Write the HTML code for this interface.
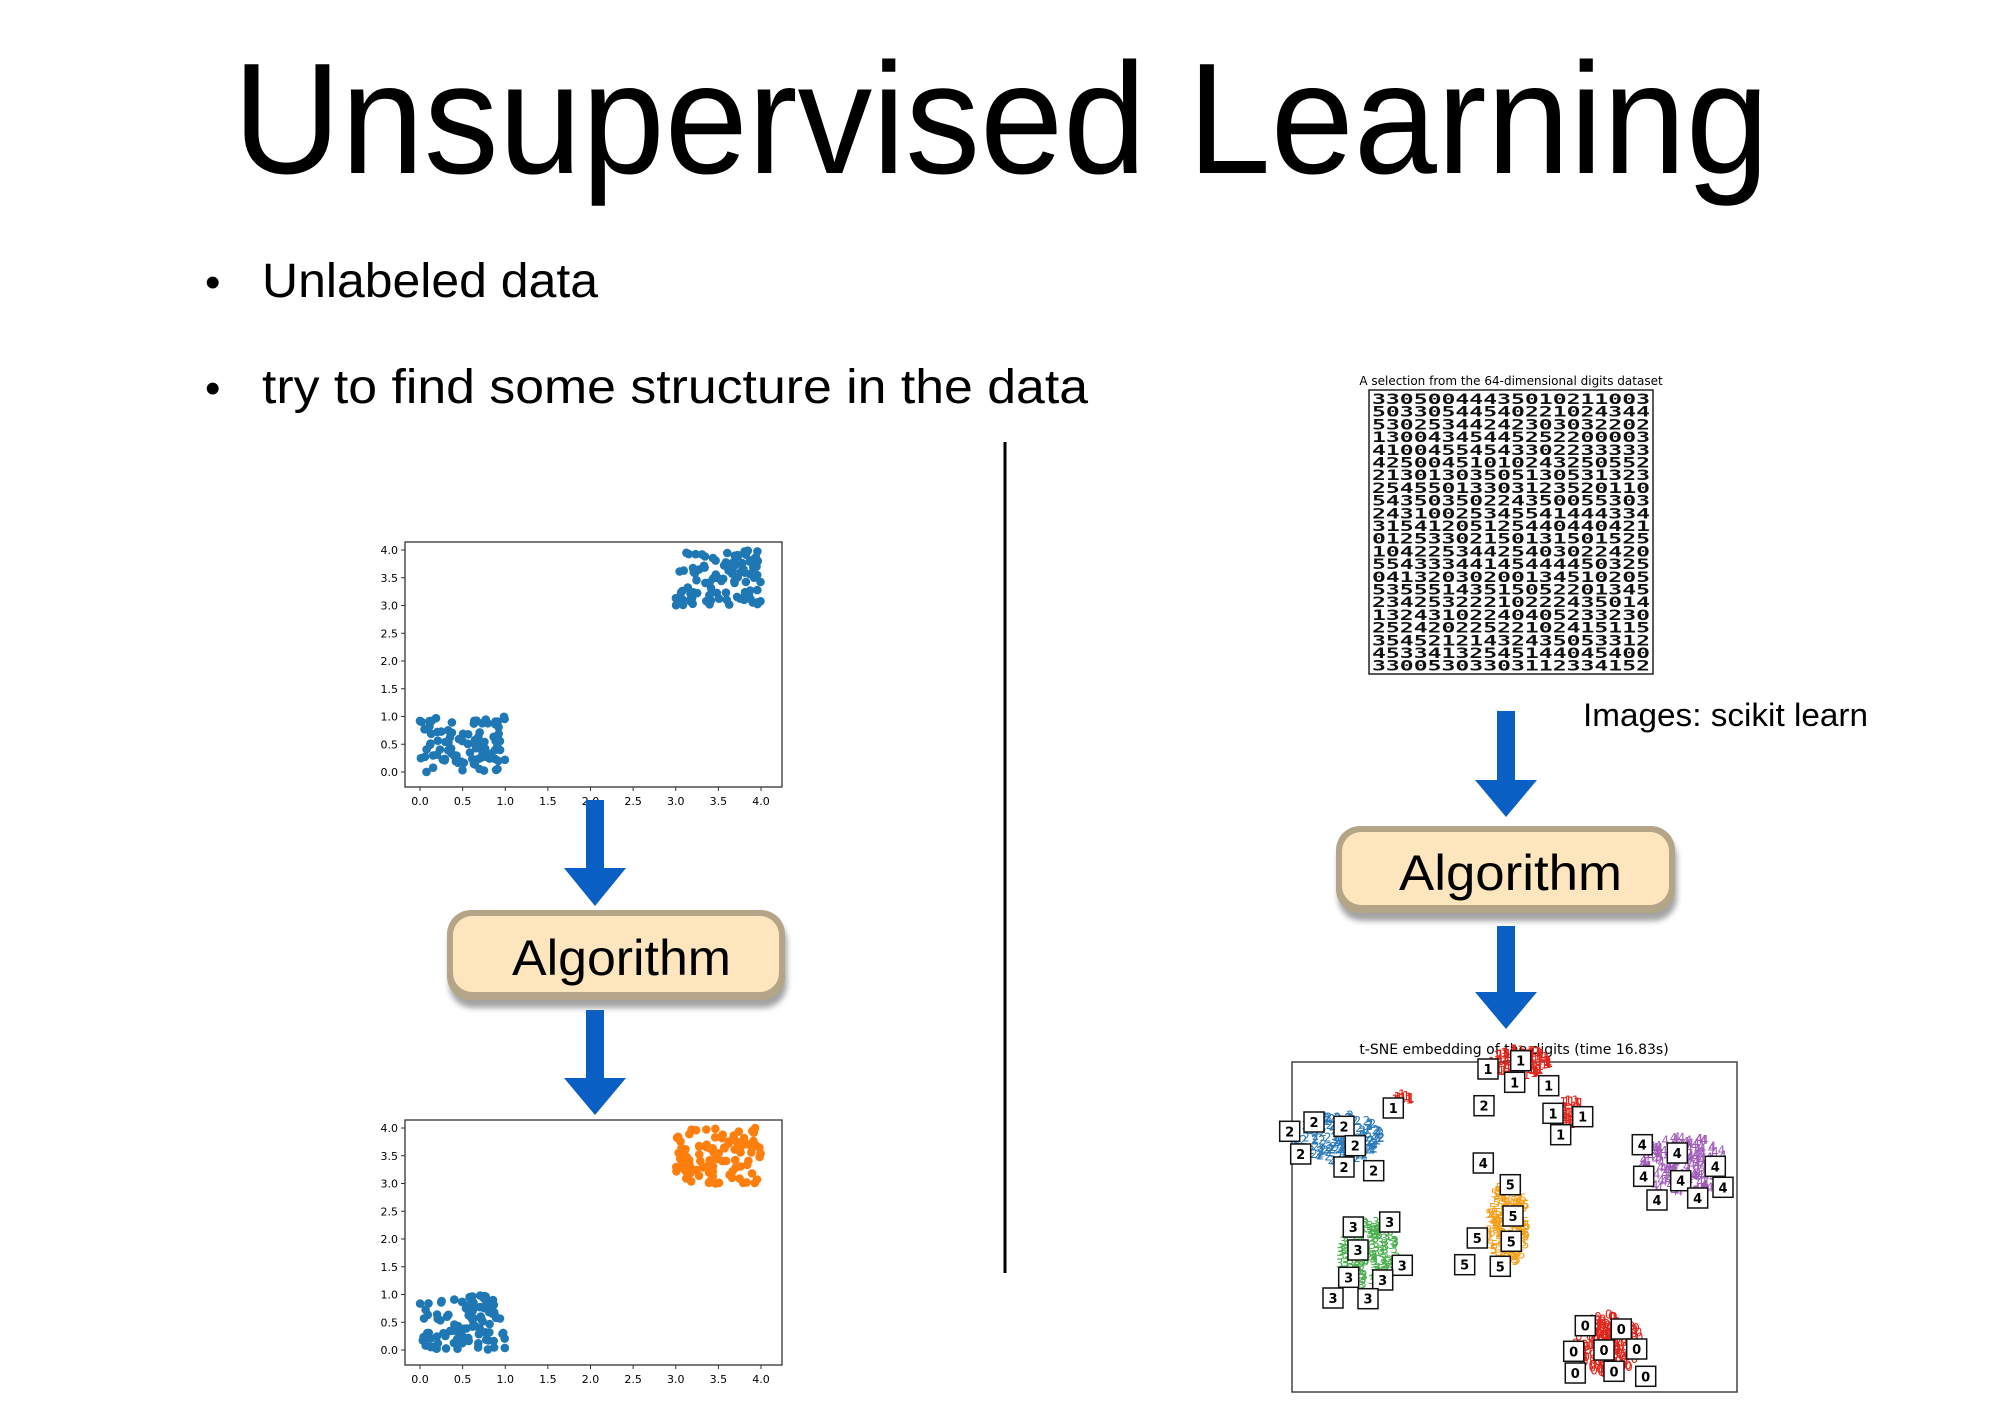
<!DOCTYPE html>
<html><head><meta charset="utf-8">
<style>
html,body{margin:0;padding:0;background:#fff;}
svg{display:block;}
</style></head>
<body>
<svg id="s" xmlns="http://www.w3.org/2000/svg" width="2000" height="1413" viewBox="0 0 2000 1413">
<defs>
<filter id="sh" x="-10%" y="-20%" width="120%" height="150%"><feGaussianBlur stdDeviation="3"/></filter>
</defs>
<text x="233" y="173" font-family="Liberation Sans, sans-serif" font-size="158" textLength="1536" lengthAdjust="spacingAndGlyphs" fill="#000">Unsupervised Learning</text>
<text x="205" y="297" font-family="Liberation Sans, sans-serif" font-size="44" fill="#000">•</text>
<text x="262" y="297" font-family="Liberation Sans, sans-serif" font-size="48" textLength="336" lengthAdjust="spacingAndGlyphs" fill="#000">Unlabeled data</text>
<text x="205" y="403" font-family="Liberation Sans, sans-serif" font-size="44" fill="#000">•</text>
<text x="262" y="403" font-family="Liberation Sans, sans-serif" font-size="48" textLength="826" lengthAdjust="spacingAndGlyphs" fill="#000">try to find some structure in the data</text>
<line x1="1005" y1="442" x2="1005" y2="1273" stroke="#000" stroke-width="3"/>
<g id="g"></g>
</svg>
<script>
(function(){
var g=document.getElementById('g');
var h='';
var seed=7;function r(){seed=(seed*16807)%2147483647;return (seed-1)/2147483646;}
function plot(oy,orange){
  var L=405,R=782,T=542+oy,B=787+oy;
  h+='<rect x="'+L+'" y="'+T+'" width="'+(R-L)+'" height="'+(B-T)+'" fill="#fff" stroke="#333" stroke-width="1.3"/>';
  function px(v){return 420+v*85.25;} function py(v){return 772+oy-v*55.5;}
  for(var i=0;i<=8;i++){var v=i*0.5;var x=px(v),y=py(v);
    h+='<line x1="'+x+'" y1="'+B+'" x2="'+x+'" y2="'+(B+4)+'" stroke="#333"/>';
    h+='<text x="'+x+'" y="'+(B+18)+'" font-family="DejaVu Sans, sans-serif" font-size="11" text-anchor="middle">'+v.toFixed(1)+'</text>';
    h+='<line x1="'+L+'" y1="'+y+'" x2="'+(L-4)+'" y2="'+y+'" stroke="#333"/>';
    h+='<text x="'+(L-7)+'" y="'+(y+4)+'" font-family="DejaVu Sans, sans-serif" font-size="11" text-anchor="end">'+v.toFixed(1)+'</text>';}
  for(var k=0;k<2;k++){var c=(k==1&&orange)?'#ff7f0e':'#1f77b4';var b=k*3;
    for(var i=0;i<100;i++){h+='<circle cx="'+px(b+r()).toFixed(1)+'" cy="'+py(b+r()).toFixed(1)+'" r="4.3" fill="'+c+'"/>';}}
}
plot(0,false);plot(578,true);
function arrow(cx,y1,y2,tip){
  h+='<rect x="'+(cx-9)+'" y="'+y1+'" width="18" height="'+(y2-y1)+'" fill="#0a5fc4"/>';
  h+='<polygon points="'+(cx-31)+','+y2+' '+(cx+31)+','+y2+' '+cx+','+tip+'" fill="#0a5fc4"/>';
}
arrow(595,800,868,906);arrow(595,1010,1078,1115);
arrow(1506,711,780,817);arrow(1506,926,992,1029);
function algo(x,y,w,hh,tx,ty,tw){
  h+='<rect x="'+(x+2)+'" y="'+(y+8)+'" width="'+w+'" height="'+hh+'" rx="24" fill="#666" opacity="0.6" filter="url(#sh)"/>';
  h+='<rect x="'+x+'" y="'+y+'" width="'+w+'" height="'+hh+'" rx="24" fill="#b4a588"/>';
  h+='<rect x="'+(x+6)+'" y="'+(y+6)+'" width="'+(w-12)+'" height="'+(hh-14)+'" rx="19" fill="#fde6bd"/>';
  h+='<text x="'+tx+'" y="'+ty+'" font-family="Liberation Sans, sans-serif" font-size="50" textLength="'+tw+'" lengthAdjust="spacingAndGlyphs">Algorithm</text>';
}
algo(447,910,338,90,512,975,219);
algo(1336,826,339,87,1399,890,223);
h+='<text x="1511" y="385" font-family="DejaVu Sans, sans-serif" font-size="12" text-anchor="middle">A selection from the 64-dimensional digits dataset</text>';
h+='<rect x="1369" y="390" width="284" height="284" fill="#fff" stroke="#222" stroke-width="1.5"/>';
for(var row=0;row<22;row++){var line='';for(var c=0;c<20;c++){line+=Math.floor(r()*6);}
  h+='<text x="1372" y="'+(404+row*12.7).toFixed(1)+'" font-family="DejaVu Sans Mono, monospace" font-weight="bold" font-size="14" textLength="278" lengthAdjust="spacingAndGlyphs" fill="#111">'+line+'</text>';}
h+='<text x="1583" y="726" font-family="Liberation Sans, sans-serif" font-size="32" textLength="285" lengthAdjust="spacingAndGlyphs">Images: scikit learn</text>';
h+='<text x="1514" y="1054" font-family="DejaVu Sans, sans-serif" font-size="14" text-anchor="middle">t-SNE embedding of the digits (time 16.83s)</text>';
h+='<rect x="1292" y="1062" width="445" height="330" fill="#fff" stroke="#444" stroke-width="1.5"/>';
function Z(x,y){return [1288+x/3,1048+y/3];}
var clouds=[[150,280,130,70,'#2b7bba','2',160],[700,55,90,40,'#e0261d','1',100],[850,205,40,40,'#e0261d','1',40],[345,165,25,15,'#e0261d','1',15],
 [1190,365,130,90,'#a05cb8','4',160],[660,540,60,130,'#f5a01a','5',150],[240,630,90,100,'#4caf50','3',140],[960,900,100,90,'#e0261d','0',180]];
clouds.forEach(function(c){for(var i=0;i<c[6];i++){var a=r()*6.283,d=Math.sqrt(r());var p=Z(c[0]+Math.cos(a)*d*c[2],c[1]+Math.sin(a)*d*c[3]);
 h+='<text x="'+p[0].toFixed(1)+'" y="'+p[1].toFixed(1)+'" font-family="DejaVu Sans, sans-serif" font-size="12" fill="'+c[4]+'" text-anchor="middle">'+c[5]+'</text>';}});
var boxes=[['1',[[600,63],[698,38],[680,103],[782,113],[795,196],[884,206],[818,260],[316,180]]],
 ['2',[[588,173],[78,222],[168,235],[202,293],[38,318],[168,357],[257,368],[5,250]]],
 ['4',[[1063,290],[1168,315],[1282,355],[1067,385],[1178,398],[1305,418],[1107,456],[1229,450],[586,345]]],
 ['5',[[667,410],[675,504],[568,570],[670,580],[530,650],[637,655]]],
 ['3',[[196,537],[305,522],[210,606],[343,652],[182,688],[284,696],[135,750],[240,752]]],
 ['0',[[892,833],[1000,843],[857,910],[948,906],[1046,903],[862,975],[978,970],[1073,985]]]];
boxes.forEach(function(b){b[1].forEach(function(q){var p=Z(q[0],q[1]);
 h+='<rect x="'+(p[0]-10).toFixed(1)+'" y="'+(p[1]-10).toFixed(1)+'" width="20" height="20" fill="#fff" stroke="#111" stroke-width="1.5"/>';
 h+='<text x="'+p[0].toFixed(1)+'" y="'+(p[1]+5).toFixed(1)+'" font-family="DejaVu Sans, sans-serif" font-weight="bold" font-size="13" text-anchor="middle">'+b[0]+'</text>';});});
g.innerHTML=h;
})();
</script>
</body></html>
